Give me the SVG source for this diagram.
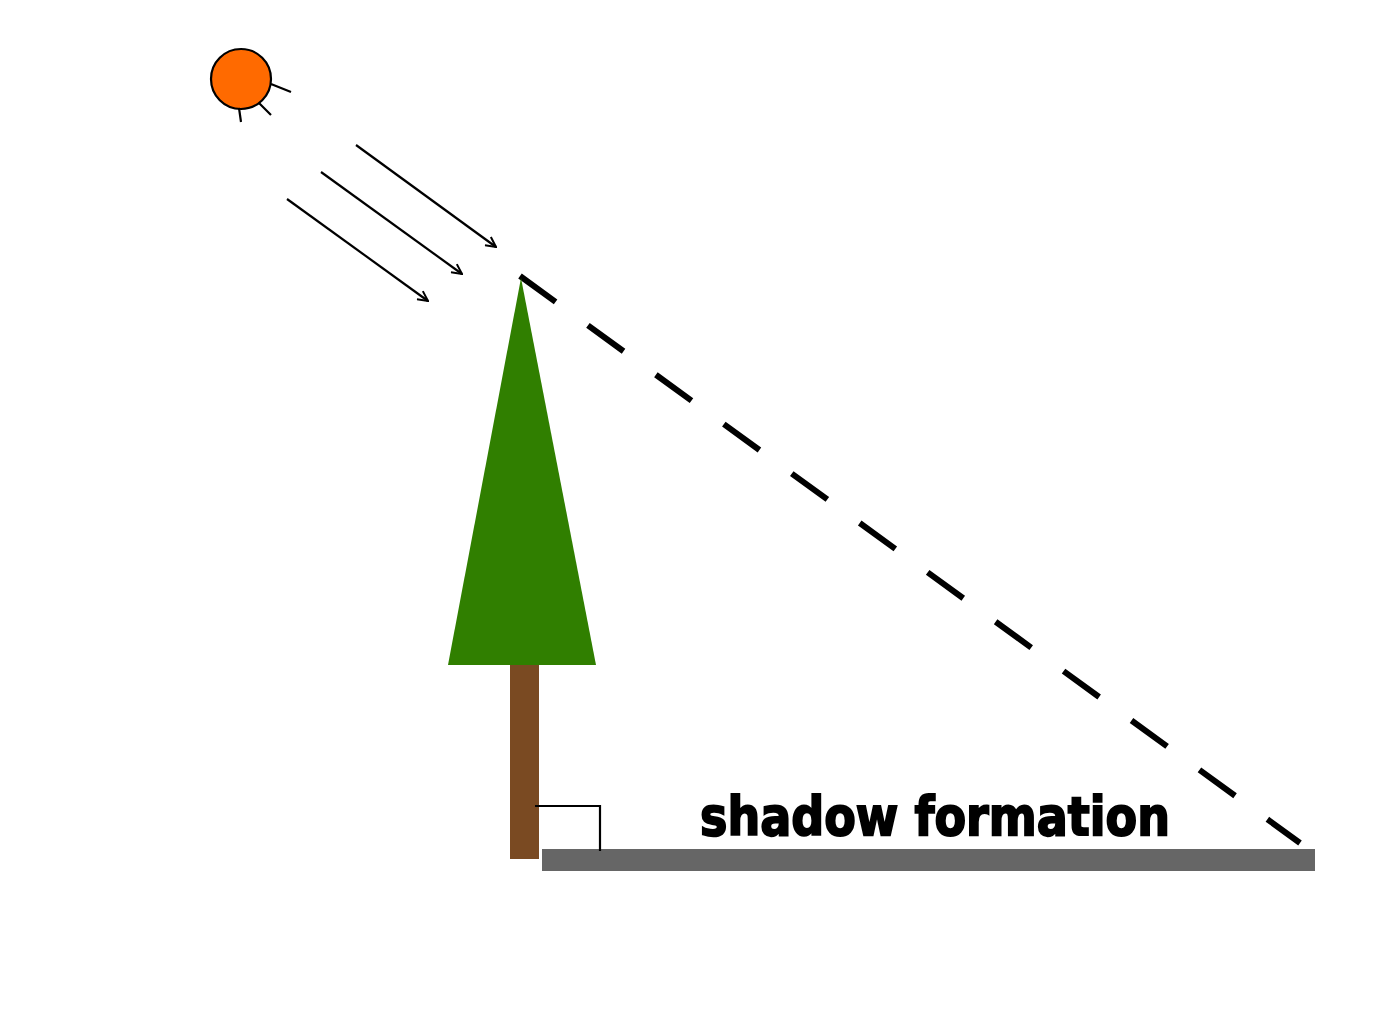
<svg xmlns="http://www.w3.org/2000/svg" width="1400" height="1009" viewBox="0 0 1400 1009">
<defs>
<style>
.ray{stroke:#000;stroke-width:2.2;fill:none;marker-end:url(#ah)}
.thin{stroke:#000;stroke-width:2.2;fill:none}
</style>
<marker id="ah" viewBox="0 0 12 12" refX="11" refY="6" markerWidth="12" markerHeight="12" markerUnits="userSpaceOnUse" orient="auto"><path d="M1,1 L11,6 L1,11" fill="none" stroke="#000" stroke-width="2"/></marker>
</defs>
<rect width="1400" height="1009" fill="#fff"/>
<g id="sun">
<circle cx="241" cy="79" r="30" fill="#ff6a00" stroke="#000" stroke-width="2.2"/>
<path class="thin" d="M271,84 L291,92 M259,103 L271,115 M239,108 L241,122"/>
</g>
<g id="rays">
<line class="ray" x1="356" y1="145" x2="496" y2="247"/>
<line class="ray" x1="321" y1="172" x2="462" y2="274"/>
<line class="ray" x1="287" y1="199" x2="428" y2="301"/>
</g>
<g id="shadow-line">
<line x1="520" y1="276" x2="1300" y2="843" stroke="#000" stroke-width="6" stroke-dasharray="44,40"/>
</g>
<g id="tree">
<polygon points="521,278 448,665 596,665" fill="#307f00"/>
<rect x="510" y="665" width="29" height="194" fill="#7a4a22"/>
</g>
<g id="ground">
<rect x="542" y="849" width="773" height="22" fill="#666"/>
</g>
<g id="right-angle">
<path class="thin" d="M535,806 H600 V851"/>
</g>
<g id="label">
<text x="700" y="835" font-family="DejaVu Sans, Verdana, sans-serif" font-weight="bold" font-size="54" textLength="470" lengthAdjust="spacingAndGlyphs" stroke="#000" stroke-width="2">shadow formation</text>
</g>
</svg>
